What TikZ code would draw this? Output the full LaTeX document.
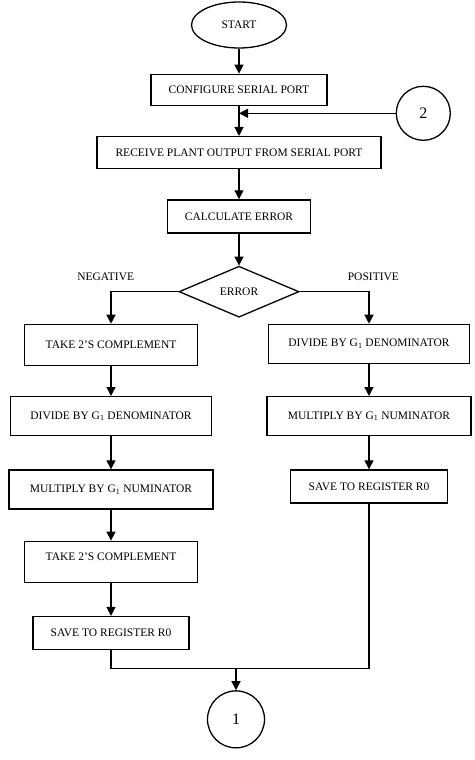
\documentclass[tikz,border=0pt]{standalone}
\usepackage{fontspec}
\setmainfont{Liberation Serif}
\usepackage{tikz}
\usetikzlibrary{arrows.meta, positioning, shapes.geometric}

\begin{document}
\begin{tikzpicture}[
        proc/.style={rectangle, draw=black, line width=1.3pt, inner sep=0pt, align=center,
                     font=\fontsize{11.5}{13}\selectfont},
        term/.style={ellipse, draw=black, line width=1.3pt, inner sep=0pt,
                     minimum width=95pt, minimum height=46pt, font=\fontsize{11.5}{13}\selectfont},
        decis/.style={diamond, draw=black, line width=1.3pt, inner sep=0pt,
                      minimum width=120pt, minimum height=51pt, font=\fontsize{11.5}{13}\selectfont},
        conn/.style={circle, draw=black, line width=1.3pt, inner sep=0pt, font=\fontsize{16}{18}\selectfont},
        lbl/.style={inner sep=0pt, font=\fontsize{11.5}{13}\selectfont},
        arrow/.style={-{Triangle[length=9pt, width=9pt]}, line width=1.3pt},
    ]
        \useasboundingbox (0,0) rectangle (474pt,-760pt);

        % Debut
        \node[term] (start) at (239pt,-25pt) {START};
        \node[proc, minimum width=176pt, minimum height=31pt, below=25pt of start] (config)
            {CONFIGURE SERIAL PORT};
        \node[proc, minimum width=284pt, minimum height=32pt, below=30pt of config] (receive)
            {RECEIVE PLANT OUTPUT FROM SERIAL PORT};
        \node[proc, minimum width=143pt, minimum height=33pt, below=30pt of receive] (calc)
            {CALCULATE ERROR};
        \node[decis, below=32pt of calc] (err) {ERROR};

        % Connecteur 2
        \node[conn, minimum size=54pt, right=68pt of config, yshift=-23.5pt] (ctwo) {2};

        \draw[arrow] (start) -- (config);
        \draw[arrow] (config) -- (receive);
        \draw[arrow] (ctwo.west) -- (ctwo.west -| config.south);
        \draw[arrow] (receive) -- (calc);
        \draw[arrow] (calc) -- (err);

        % Etiquettes
        \node[lbl, above left=11pt and 44pt of err.west] (neg) {NEGATIVE};
        \node[lbl, above right=11pt and 48pt of err.east] (pos) {POSITIVE};

        % Branche negative
        \node[proc, minimum width=173pt, minimum height=41pt, below=32pt of err.center, xshift=-128pt] (ltake)
            {TAKE 2'S COMPLEMENT};
        \node[proc, minimum width=201pt, minimum height=39pt, below=30pt of ltake] (ldiv)
            {DIVIDE BY G\textsubscript{1} DENOMINATOR};
        \node[proc, minimum width=204pt, minimum height=39pt, below=33pt of ldiv] (lmul)
            {MULTIPLY BY G\textsubscript{1} NUMINATOR};
        \node[proc, minimum width=173pt, minimum height=41pt, text depth=11pt, below=31pt of lmul] (ltaketwo)
            {TAKE 2'S COMPLEMENT};
        \node[proc, minimum width=156pt, minimum height=33pt, below=33pt of ltaketwo] (lsave)
            {SAVE TO REGISTER R0};

        \draw[arrow] (err.west) -| (ltake.north);
        \draw[arrow] (ltake) -- (ldiv);
        \draw[arrow] (ldiv) -- (lmul);
        \draw[arrow] (lmul) -- (ltaketwo);
        \draw[arrow] (ltaketwo) -- (lsave);

        % Branche positive
        \node[proc, minimum width=201pt, minimum height=39pt, below=32pt of err.center, xshift=130pt] (rdiv)
            {DIVIDE BY G\textsubscript{1} DENOMINATOR};
        \node[proc, minimum width=204pt, minimum height=39pt, below=32pt of rdiv] (rmul)
            {MULTIPLY BY G\textsubscript{1} NUMINATOR};
        \node[proc, minimum width=157pt, minimum height=33pt, below=33pt of rmul] (rsave)
            {SAVE TO REGISTER R0};

        \draw[arrow] (err.east) -| (rdiv.north);
        \draw[arrow] (rdiv) -- (rmul);
        \draw[arrow] (rmul) -- (rsave);

        % Jonction et connecteur 1
        \coordinate[below=18pt of lsave.south, xshift=125pt] (join);
        \node[conn, minimum size=57pt, below=22pt of join] (cone) {1};
        \draw[line width=1.3pt] (lsave.south) |- (join) -| (rsave.south);
        \draw[arrow] (join) -- (cone);
    \end{tikzpicture}
\end{document}
